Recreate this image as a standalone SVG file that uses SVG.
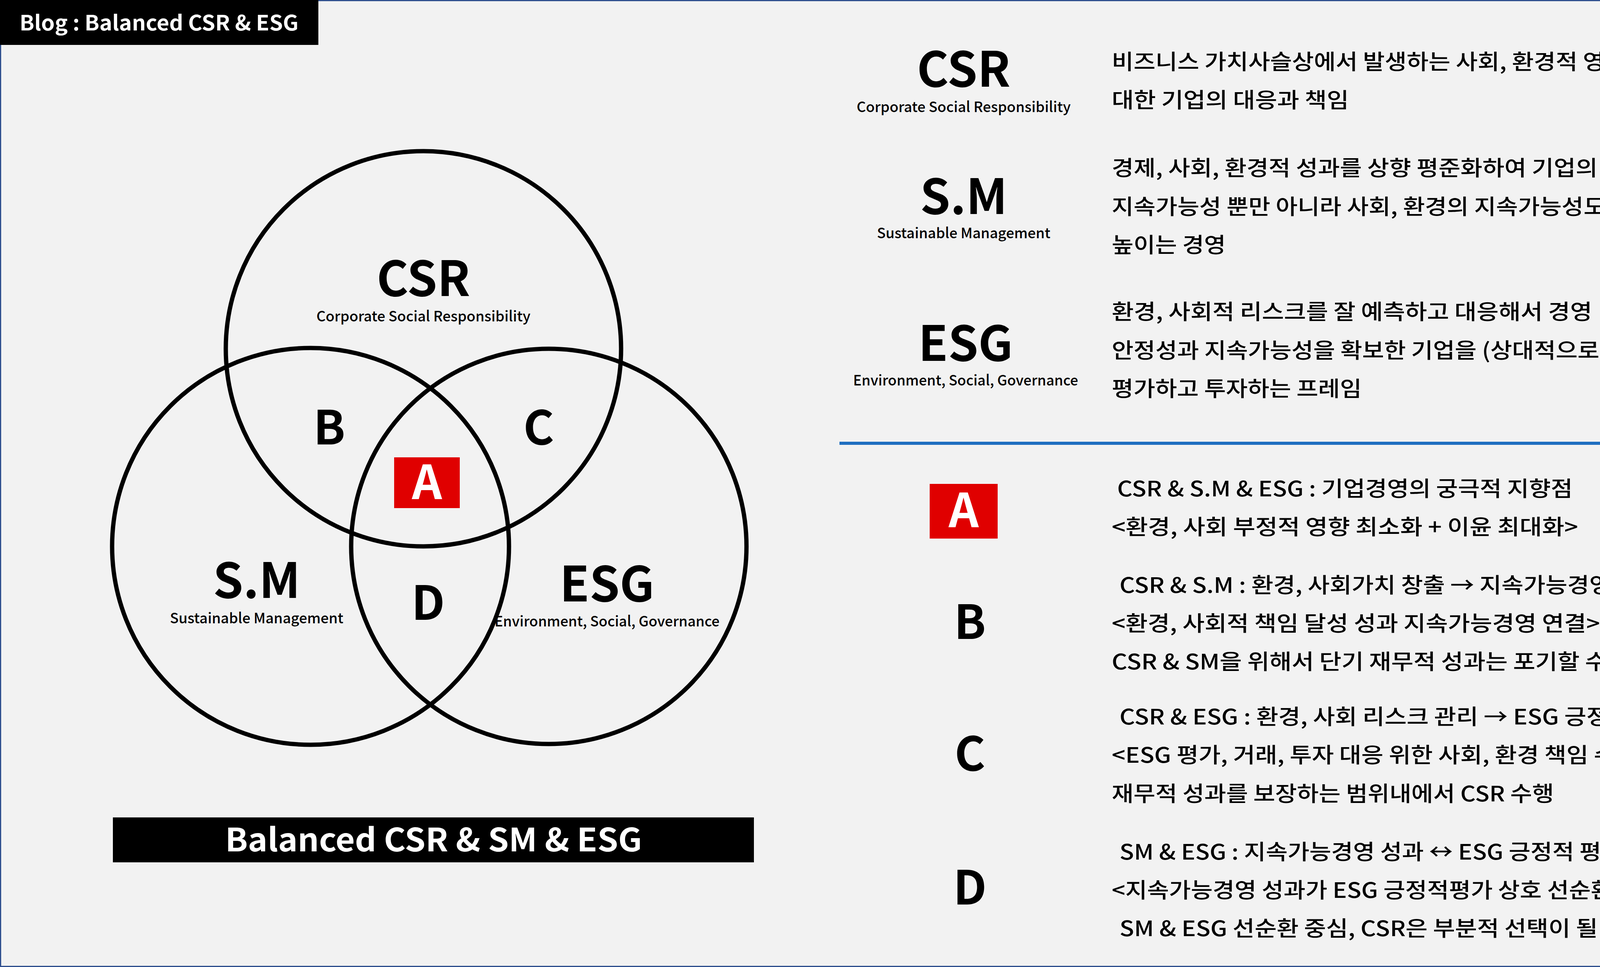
<svg xmlns="http://www.w3.org/2000/svg" width="4405" height="2476" viewBox="0 0 4405 2476">
<style>
text{font-family:"Noto Sans CJK KR","Liberation Sans",sans-serif;fill:#000}
.big{font-size:124px;font-weight:700;text-anchor:middle}
.sub{font-size:37px;text-anchor:middle;font-weight:500}
.let{font-size:120px;font-weight:700;text-anchor:middle}
.body{font-size:54px;font-weight:500}
.circ{fill:none;stroke:#000;stroke-width:11}
.w{fill:#fff}
</style>
<rect x="0" y="0" width="4405" height="2476" fill="#f2f2f2" stroke="#2f4f8f" stroke-width="6"/>
<g id="title"><rect x="0" y="0" width="815" height="115" fill="#000"/><text x="50" y="78" class="w" style="font-size:54px;font-weight:700" textLength="714" lengthAdjust="spacingAndGlyphs">Blog : Balanced CSR &amp; ESG</text></g>
<g id="venn">
<circle class="circ" cx="1084" cy="893" r="506"/>
<circle class="circ" cx="795" cy="1399" r="508"/>
<circle class="circ" cx="1405" cy="1399" r="506"/>
</g>
<g id="csr-circle-label"><text x="1084" y="758" class="big">CSR</text><text x="1084" y="823" class="sub" textLength="548" lengthAdjust="spacingAndGlyphs">Corporate Social Responsibility</text></g>
<g id="sm-circle-label"><text x="657" y="1531" class="big">S.M</text><text x="657" y="1596" class="sub" textLength="444" lengthAdjust="spacingAndGlyphs">Sustainable Management</text></g>
<g id="esg-circle-label"><text x="1554" y="1540" class="big">ESG</text><text x="1554" y="1604" class="sub" textLength="576" lengthAdjust="spacingAndGlyphs">Environment, Social, Governance</text></g>
<g id="region-b"><text x="843" y="1138" class="let">B</text></g>
<g id="region-c"><text x="1379" y="1138" class="let">C</text></g>
<g id="region-a"><rect x="1009" y="1171" width="168" height="130" fill="#e00000"/><text x="1093" y="1278" class="let w">A</text></g>
<g id="region-d"><text x="1096" y="1587" class="let">D</text></g>
<g id="bar"><rect x="289" y="2093" width="1641" height="115" fill="#000"/><text x="1110" y="2180" class="w" style="font-size:82px;font-weight:700;text-anchor:middle" textLength="1067" lengthAdjust="spacingAndGlyphs">Balanced CSR &amp; SM &amp; ESG</text></g>
<g id="def-csr"><text x="2467" y="222" class="big">CSR</text><text x="2467" y="287" class="sub" textLength="548" lengthAdjust="spacingAndGlyphs">Corporate Social Responsibility</text>
<text x="2846" y="178" class="body" textLength="1374" lengthAdjust="spacingAndGlyphs">비즈니스 가치사슬상에서 발생하는 사회, 환경적 영향에</text>
<text x="2846" y="276" class="body" textLength="607" lengthAdjust="spacingAndGlyphs">대한 기업의 대응과 책임</text></g>
<g id="def-sm"><text x="2467" y="548" class="big">S.M</text><text x="2467" y="610" class="sub" textLength="444" lengthAdjust="spacingAndGlyphs">Sustainable Management</text>
<text x="2846" y="450" class="body" textLength="1244" lengthAdjust="spacingAndGlyphs">경제, 사회, 환경적 성과를 상향 평준화하여 기업의</text>
<text x="2846" y="549" class="body" textLength="1264" lengthAdjust="spacingAndGlyphs">지속가능성 뿐만 아니라 사회, 환경의 지속가능성도</text>
<text x="2846" y="647" class="body" textLength="292" lengthAdjust="spacingAndGlyphs">높이는 경영</text></g>
<g id="def-esg"><text x="2472" y="924" class="big">ESG</text><text x="2472" y="987" class="sub" textLength="576" lengthAdjust="spacingAndGlyphs">Environment, Social, Governance</text>
<text x="2846" y="818" class="body" textLength="1230" lengthAdjust="spacingAndGlyphs">환경, 사회적 리스크를 잘 예측하고 대응해서 경영</text>
<text x="2846" y="917" class="body" textLength="1270" lengthAdjust="spacingAndGlyphs">안정성과 지속가능성을 확보한 기업을 (상대적으로)</text>
<text x="2846" y="1015" class="body" textLength="640" lengthAdjust="spacingAndGlyphs">평가하고 투자하는 프레임</text></g>
<g id="connectors"><line x1="2149" y1="1135" x2="4279" y2="1135" stroke="#1f6fc0" stroke-width="8"/></g>
<g id="item-a"><rect x="2380" y="1239" width="174" height="140" fill="#e00000"/><text x="2467" y="1350" class="let w">A</text>
<text x="2860" y="1271" class="body" textLength="1166" lengthAdjust="spacingAndGlyphs">CSR &amp; S.M &amp; ESG : 기업경영의 궁극적 지향점</text>
<text x="2846" y="1369" class="body" textLength="1194" lengthAdjust="spacingAndGlyphs">&lt;환경, 사회 부정적 영향 최소화 + 이윤 최대화&gt;</text></g>
<g id="item-b"><text x="2483" y="1636" class="let">B</text>
<text x="2866" y="1518" class="body" textLength="1385" lengthAdjust="spacingAndGlyphs">CSR &amp; S.M : 환경, 사회가치 창출 → 지속가능경영 성과</text>
<text x="2846" y="1616" class="body" textLength="1250" lengthAdjust="spacingAndGlyphs">&lt;환경, 사회적 책임 달성 성과 지속가능경영 연결&gt;</text>
<text x="2846" y="1714" class="body" textLength="1396" lengthAdjust="spacingAndGlyphs">CSR &amp; SM을 위해서 단기 재무적 성과는 포기할 수 있음</text></g>
<g id="item-c"><text x="2483" y="1973" class="let">C</text>
<text x="2866" y="1855" class="body" textLength="1435" lengthAdjust="spacingAndGlyphs">CSR &amp; ESG : 환경, 사회 리스크 관리 →  ESG 긍정적 평가</text>
<text x="2846" y="1953" class="body" textLength="1382" lengthAdjust="spacingAndGlyphs">&lt;ESG 평가, 거래, 투자 대응 위한 사회, 환경 책임 수행&gt;</text>
<text x="2846" y="2052" class="body" textLength="1132" lengthAdjust="spacingAndGlyphs">재무적 성과를 보장하는 범위내에서 CSR 수행</text></g>
<g id="item-d"><text x="2483" y="2316" class="let">D</text>
<text x="2866" y="2201" class="body" textLength="1289" lengthAdjust="spacingAndGlyphs">SM &amp; ESG : 지속가능경영 성과 ↔ ESG 긍정적 평가</text>
<text x="2846" y="2299" class="body" textLength="1317" lengthAdjust="spacingAndGlyphs">&lt;지속가능경영 성과가 ESG 긍정적평가 상호 선순환&gt;</text>
<text x="2866" y="2397" class="body" textLength="1421" lengthAdjust="spacingAndGlyphs">SM &amp; ESG 선순환 중심, CSR은 부분적 선택이 될 수 있음</text></g>
</svg>
